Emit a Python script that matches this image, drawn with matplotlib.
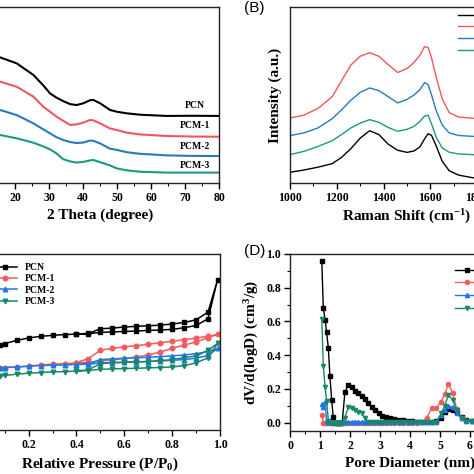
import matplotlib
matplotlib.use("Agg")
import matplotlib.pyplot as plt
from matplotlib.ticker import MultipleLocator

plt.rcParams["font.family"] = "Liberation Serif"
plt.rcParams["font.weight"] = "bold"
plt.rcParams["axes.labelweight"] = "bold"
plt.rcParams["mathtext.fontset"] = "custom"
plt.rcParams["mathtext.rm"] = "Liberation Serif:bold"
plt.rcParams["mathtext.it"] = "Liberation Serif:bold"
plt.rcParams["mathtext.bf"] = "Liberation Serif:bold"
plt.rcParams["axes.linewidth"] = 1.0
plt.rcParams["axes.edgecolor"] = "#222222"

samples = ["PCN", "PCM-1", "PCM-2", "PCM-3"]
colors_ab = ["#000000", "#ef585b", "#2a79bd", "#1b9a80"]
colors_cd = ["#000000", "#f25c5c", "#1e78e6", "#16896a"]
markers = ["s", "o", "^", "v"]

# (A) XRD, offset intensities (a.u.)
xrd_theta = [10, 15.6, 20.5, 25.4, 28.3, 30.3, 32.2, 34.2, 36.2, 38.1, 40.1,
             42.0, 43.0, 45.0, 47.9, 49.9, 52.8, 56.7, 64.5, 72, 80]
xrd_pcn = [80, 71.4, 68.0, 61.4, 55.5, 50.9, 48.5, 46.5, 44.8, 44.3, 45.3,
           47.0, 47.2, 45.3, 41.5, 40.5, 39.6, 38.8, 38.1, 38.2, 38.1]
xrd_pcm1 = [64, 57.6, 54.7, 49.1, 43.4, 40.5, 37.7, 35.3, 33.0, 33.3, 34.3,
            35.8, 35.6, 33.9, 31.0, 30.1, 28.6, 27.6, 26.7, 26.4, 26.3]
xrd_pcm2 = [47, 41.5, 38.6, 33.9, 30.5, 28.2, 26.0, 24.4, 23.3, 22.7, 23.0,
            24.1, 24.0, 22.5, 19.5, 18.8, 17.5, 16.6, 15.7, 15.4, 15.3]
xrd_pcm3 = [32, 27.3, 25.4, 22.9, 20.8, 19.1, 16.8, 13.5, 12.3, 11.6, 12.0,
            12.8, 13.1, 11.8, 10.0, 8.3, 7.2, 6.4, 5.9, 5.9, 5.9]
xrd_label_x = 72.9
xrd_label_y = [43.8, 32.4, 20.6, 10.2]

# (B) Raman, offset intensities (a.u.)
raman_x = [1000, 1060, 1120, 1180, 1220, 1260, 1300, 1340, 1380, 1420, 1460, 1500,
           1530, 1555, 1575, 1590, 1605, 1625, 1650, 1680, 1720, 1780, 1850, 2000]
raman_pcn = [6.1, 7.4, 9.0, 11.0, 14.5, 19.5, 25.5, 29.7, 27.5, 22.0, 18.6, 17.4,
             18.2, 20.5, 25.0, 28.0, 27.0, 21.0, 12.5, 7.0, 4.5, 3.0, 2.5, 2.0]
raman_pcm1 = [36.9, 38.6, 42.4, 49.0, 58.0, 67.0, 72.0, 74.0, 72.0, 67.2, 62.8, 65.0,
              68.5, 72.5, 77.5, 77.0, 71.0, 60.0, 48.0, 40.0, 37.5, 36.8, 36.5, 36.0]
raman_pcm2 = [26.9, 28.5, 31.3, 36.5, 41.5, 47.0, 51.5, 54.0, 52.5, 49.0, 45.5, 47.5,
              50.0, 53.0, 57.0, 56.0, 50.0, 41.0, 33.0, 28.5, 27.0, 26.5, 26.3, 26.0]
raman_pcm3 = [16.1, 18.0, 20.8, 24.0, 27.5, 31.3, 34.0, 36.0, 34.5, 31.5, 29.4, 30.5,
              32.2, 35.0, 38.0, 38.5, 33.5, 26.0, 20.0, 17.5, 16.5, 16.1, 16.0, 16.0]

# (C) N2 isotherms: adsorption branch then desorption branch
p_ads = [0.01, 0.05, 0.08, 0.1, 0.15, 0.2, 0.25, 0.3, 0.35, 0.4, 0.45, 0.5,
         0.55, 0.6, 0.65, 0.7, 0.75, 0.8, 0.85, 0.9, 0.95, 0.99]
p_des = [0.95, 0.9, 0.85, 0.8, 0.75, 0.7, 0.65, 0.6, 0.55, 0.5, 0.45, 0.4]
iso_pcn = [40, 46.5, 48.1, 49.1, 50.9, 52.3, 53.2, 53.8, 54.2, 54.5, 54.7, 55.5,
           55.7, 56.0, 56.2, 56.6, 56.8, 57.2, 58.1, 59.4, 63.2, 85.5,
           67.0, 62.6, 61.1, 60.2, 59.6, 59.2, 58.9, 58.5, 57.9, 57.5, 54.9, 54.5]
iso_pcm1 = [28, 34, 35.3, 35.5, 35.8, 36.4, 37.0, 37.4, 37.7, 38.1, 38.5, 39.2,
            39.8, 40.6, 41.5, 42.6, 44.3, 46.4, 48.3, 50.0, 52.5, 54.3,
            53.2, 52.3, 51.3, 50.4, 49.6, 48.7, 47.9, 47.2, 46.4, 45.3, 40.6, 38.3]
iso_pcm2 = [27, 33.5, 35.3, 35.5, 35.8, 36.2, 36.6, 36.8, 37.0, 37.2, 37.4, 38.1,
            38.3, 38.5, 38.7, 38.9, 39.2, 39.6, 40.0, 40.8, 42.3, 46.4,
            44.5, 43.4, 42.6, 42.1, 41.7, 41.3, 41.1, 40.8, 40.4, 40.0, 37.5, 37.2]
iso_pcm3 = [22, 28.5, 30.4, 31.0, 31.7, 32.3, 32.6, 33.0, 33.2, 33.4, 33.8, 34.5,
            34.7, 34.9, 35.1, 35.3, 35.5, 35.8, 36.6, 38.1, 41.1, 49.2,
            45.3, 42.1, 41.1, 40.0, 39.4, 38.9, 38.7, 38.5, 38.1, 37.7, 34.2, 33.6]

# (D) pore size distribution
pore_d = [1.06, 1.11, 1.17, 1.22, 1.28, 1.33, 1.39, 1.44, 1.5, 1.56, 1.62, 1.68,
          1.74, 1.83, 1.94, 2.06, 2.17, 2.28, 2.39, 2.5, 2.61, 2.72, 2.84, 2.96,
          3.08, 3.2, 3.34, 3.48, 3.62, 3.77, 3.92, 4.08, 4.24, 4.4, 4.56, 4.72,
          4.88, 5.04, 5.16, 5.28, 5.42, 5.56, 5.72, 5.88, 6.05, 6.25, 6.5]
psd_pcn = [0.96, 0.68, 0.61, 0.535, 0.44, 0.275, 0.135, 0.035, 0.0, 0.0, 0.0, 0.0,
           0.0, 0.18, 0.225, 0.21, 0.19, 0.175, 0.158, 0.138, 0.115, 0.092, 0.072, 0.055,
           0.04, 0.032, 0.025, 0.02, 0.016, 0.013, 0.01, 0.008, 0.006, 0.005, 0.005, 0.006,
           0.012, 0.03, 0.06, 0.082, 0.075, 0.062, 0.032, 0.018, 0.01, 0.006, 0.004]
psd_pcm1 = [0.046, 0.0, 0.0, 0.0, 0.0, 0.0, 0.0, 0.0, 0.0, 0.0, 0.0, 0.0,
            0.0, 0.0, 0.0, 0.0, 0.0, 0.0, 0.0, 0.0, 0.0, 0.0, 0.0, 0.0,
            0.0, 0.0, 0.0, 0.0, 0.0, 0.0, 0.0, 0.0, 0.0, 0.003, 0.03, 0.085,
            0.085, 0.125, 0.17, 0.23, 0.175, 0.08, 0.03, 0.012, 0.008, 0.005, 0.004]
psd_pcm2 = [0.11, 0.095, 0.125, 0.01, 0.003, 0.003, 0.003, 0.003, 0.003, 0.003, 0.003, 0.003,
            0.003, 0.003, 0.003, 0.003, 0.003, 0.003, 0.003, 0.003, 0.002, 0.002, 0.002, 0.002,
            0.002, 0.002, 0.002, 0.002, 0.002, 0.002, 0.002, 0.002, 0.002, 0.002, 0.002, 0.002,
            0.003, 0.045, 0.075, 0.1, 0.09, 0.055, 0.025, 0.012, 0.008, 0.005, 0.004]
psd_pcm3 = [0.615, 0.335, 0.21, 0.13, 0.01, 0.0, 0.0, 0.0, 0.0, 0.0, 0.0, 0.0,
            0.0, 0.03, 0.09, 0.085, 0.072, 0.065, 0.058, 0.025, 0.004, 0.003, 0.003, 0.003,
            0.003, 0.003, 0.003, 0.003, 0.003, 0.003, 0.003, 0.003, 0.003, 0.003, 0.003, 0.003,
            0.004, 0.055, 0.1, 0.165, 0.135, 0.075, 0.025, 0.012, 0.008, 0.005, 0.004]

W = H = 474


def px_axes(fig, left, top, right, bottom):
    # axes placed by pixel box; the source figure was cropped, so boxes may overhang
    return fig.add_axes([left / W, 1 - bottom / H, (right - left) / W, (bottom - top) / H])


def style_ticks(ax):
    ax.tick_params(which="major", direction="out", length=4, width=1, labelsize=8.5, pad=2.5)
    ax.tick_params(which="minor", direction="out", length=2, width=0.8)
    for lab in ax.get_xticklabels() + ax.get_yticklabels():
        lab.set_fontweight("bold")


fig = plt.figure(figsize=(4.74, 4.74), dpi=100)

# ---- (A) XRD ----
axA = px_axes(fig, -19.1, 7, 219.3, 183)
for y, c in zip([xrd_pcn, xrd_pcm1, xrd_pcm2, xrd_pcm3], colors_ab):
    axA.plot(xrd_theta, y, color=c, lw=1.5)
for lab, y in zip(samples, xrd_label_y):
    axA.text(xrd_label_x, y, lab, ha="center", va="center", fontsize=7, fontweight="bold")
axA.set_xlim(10, 80)
axA.set_ylim(0, 100)
axA.xaxis.set_major_locator(MultipleLocator(10))
axA.xaxis.set_minor_locator(MultipleLocator(5))
axA.set_yticks([])
axA.set_xlabel("2 Theta (degree)", fontsize=11, labelpad=3)
style_ticks(axA)

# ---- (B) Raman ----
axB = px_axes(fig, 290, 7, 524, 183)
for y, c, lab in zip([raman_pcn, raman_pcm1, raman_pcm2, raman_pcm3], colors_ab, samples):
    axB.plot(raman_x, y, color=c, lw=1.0, label=lab)
axB.set_xlim(1000, 2000)
axB.set_ylim(0, 100)
axB.xaxis.set_major_locator(MultipleLocator(200))
axB.xaxis.set_minor_locator(MultipleLocator(100))
axB.set_yticks([])
axB.set_xlabel("Raman Shift (cm$^{-1}$)", fontsize=11, labelpad=3)
axB.set_ylabel("Intensity (a.u.)", fontsize=11, labelpad=6)
axB.legend(loc="upper left", bbox_to_anchor=(458 / W, 1 - 11 / H), bbox_transform=fig.transFigure,
           frameon=False, fontsize=7, handlelength=2.5, borderpad=0, borderaxespad=0,
           labelspacing=0.28)
style_ticks(axB)
fig.text(244 / W, 1 - 8 / H, "(B)", fontsize=11, family="Liberation Sans", fontweight="normal",
         ha="left", va="center")

# ---- (C) isotherms ----
axC = px_axes(fig, -19.2, 254, 220, 430)
p_all = p_ads + p_des
for y, c, m, lab in zip([iso_pcn, iso_pcm1, iso_pcm2, iso_pcm3], colors_cd, markers, samples):
    axC.plot(p_all, y, color=c, lw=1.1, marker=m, ms=3.3, label=lab)
axC.set_xlim(0, 1.0)
axC.set_ylim(0, 100)
axC.xaxis.set_major_locator(MultipleLocator(0.2))
axC.xaxis.set_minor_locator(MultipleLocator(0.1))
axC.set_yticks([])
axC.set_xlabel("Relative Pressure (P/P$_0$)", fontsize=11, labelpad=3)
axC.legend(loc="upper left", bbox_to_anchor=(-7 / W, 1 - 263 / H), bbox_transform=fig.transFigure,
           frameon=False, fontsize=7, handlelength=2.5, borderpad=0, borderaxespad=0,
           labelspacing=0.25)
style_ticks(axC)

# ---- (D) pore size distribution ----
axD = px_axes(fig, 290, 254, 530, 431)
for y, c, m, lab in zip([psd_pcn, psd_pcm1, psd_pcm2, psd_pcm3], colors_cd, markers, samples):
    axD.plot(pore_d, y, color=c, lw=1.0, marker=m, ms=3, label=lab)
axD.set_xlim(0, 8)
axD.set_ylim(-0.05, 1.0)
axD.xaxis.set_major_locator(MultipleLocator(1))
axD.xaxis.set_minor_locator(MultipleLocator(0.5))
axD.yaxis.set_major_locator(MultipleLocator(0.2))
axD.yaxis.set_minor_locator(MultipleLocator(0.1))
axD.yaxis.set_major_formatter(plt.FormatStrFormatter("%.1f"))
axD.set_xlabel("Pore Diameter (nm)", fontsize=11, labelpad=3)
axD.set_ylabel("dV/d(logD) (cm$^3$/g)", fontsize=11, labelpad=4)
axD.legend(loc="upper left", bbox_to_anchor=(455 / W, 1 - 266 / H), bbox_transform=fig.transFigure,
           frameon=False, fontsize=7, handlelength=2.5, borderpad=0, borderaxespad=0,
           labelspacing=0.4)
style_ticks(axD)
fig.text(244 / W, 1 - 251 / H, "(D)", fontsize=11, family="Liberation Sans", fontweight="normal",
         ha="left", va="center")

fig.savefig("out.png", dpi=100)
